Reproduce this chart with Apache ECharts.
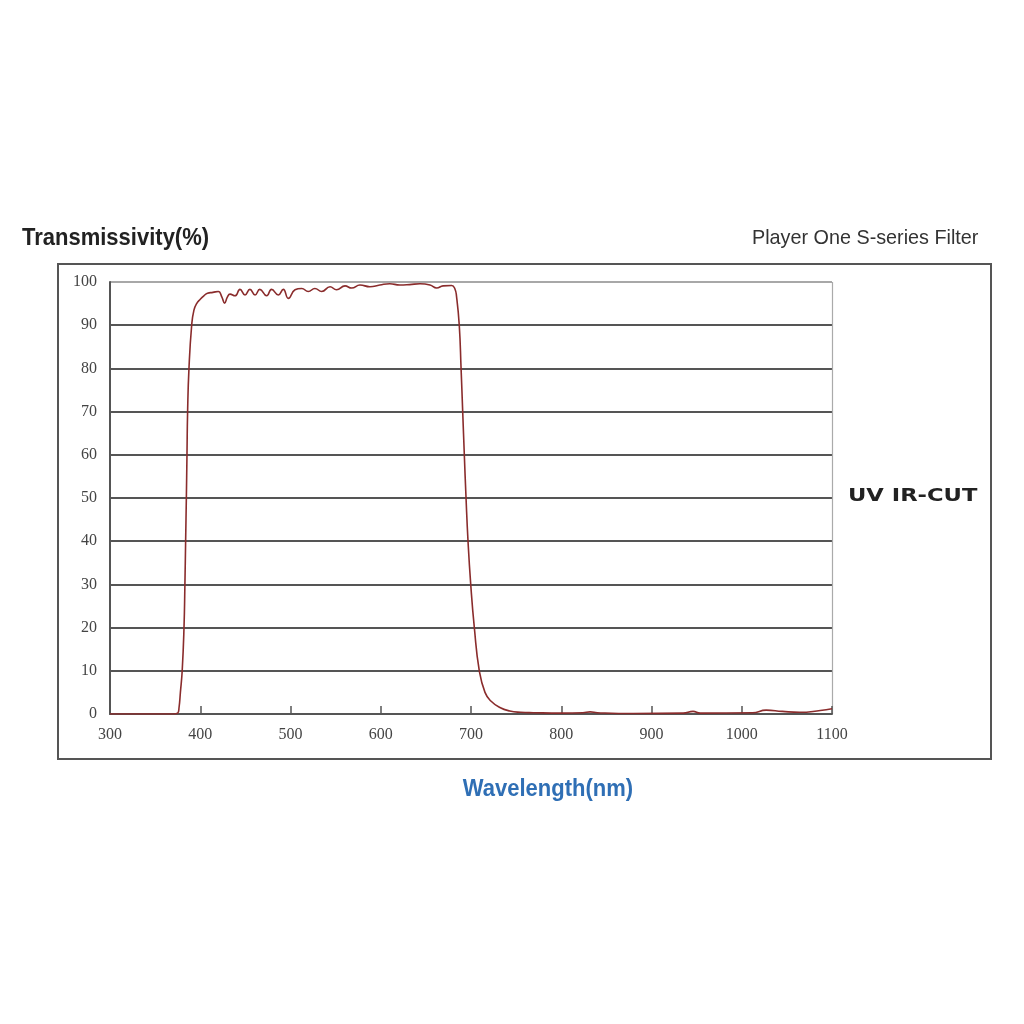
<!DOCTYPE html>
<html>
<head>
<meta charset="utf-8">
<script src="https://cdn.jsdelivr.net/npm/echarts@6/dist/echarts.min.js"></script>
<style>
html,body{margin:0;padding:0;background:#fff;}
#chart{width:1024px;height:1024px;}
</style>
</head>
<body>
<div id="chart"></div>
<script>
// Wavelength (nm) and transmissivity (%)
var wavelengths = [300, 370, 375, 376.5, 378, 380, 382, 383, 383.8, 384.6, 385.3, 386, 387.5, 390.5, 393, 396, 400, 404, 408, 414, 420, 424, 427, 430, 433, 438.5, 444, 449.6, 455, 460.7, 466, 473.6, 479, 486.5, 492, 497.6, 505, 512.4, 519.7, 527, 534.6, 543.8, 551, 560.4, 567.8, 577, 588, 599, 610, 621, 632, 643.5, 654.6, 662, 669, 678.6, 682, 684, 687, 689, 690.8, 692.6, 694.5, 696.7, 699.7, 703.7, 709.2, 715.5, 722, 732, 743, 755, 769, 800, 824, 832, 840, 880, 935, 946, 954, 1012, 1027, 1045, 1064, 1087, 1100];
var transmissivity = [0, 0, 0.2, 1.5, 5, 10, 20, 30, 40, 50, 60, 70, 80, 90, 93.5, 95, 96, 96.8, 97.4, 97.6, 97.8, 96.5, 95.1, 96.5, 97.2, 96.8, 98.3, 97.0, 98.3, 97.0, 98.3, 96.8, 98.3, 97.0, 98.3, 96.2, 98.2, 98.5, 97.8, 98.5, 97.8, 98.9, 98.2, 99.1, 98.6, 99.3, 98.9, 99.3, 99.6, 99.3, 99.4, 99.6, 99.3, 98.6, 99.1, 99.2, 98.5, 96.6, 90, 80, 70, 60, 50, 40, 30, 20, 10, 5, 3, 1.5, 0.7, 0.4, 0.3, 0.2, 0.3, 0.5, 0.3, 0.1, 0.2, 0.6, 0.2, 0.3, 0.9, 0.6, 0.4, 0.8, 1.2];
var xTicks = [300, 400, 500, 600, 700, 800, 900, 1000, 1100];
var yTicks = [0, 10, 20, 30, 40, 50, 60, 70, 80, 90, 100];

var pts = wavelengths.map(function (w, i) { return [w, transmissivity[i]]; });

var chart = echarts.init(document.getElementById('chart'), null, {renderer: 'canvas'});
var serif = '"Liberation Serif", "DejaVu Serif", serif';
var sans = '"Liberation Sans", Arial, sans-serif';

var gridColors = yTicks.map(function (v, i) { return i === yTicks.length - 1 ? '#a8a8a8' : '#555'; });
var xSplitColors = xTicks.map(function (v, i) { return i === xTicks.length - 1 ? '#aaaaaa' : 'rgba(0,0,0,0)'; });

chart.setOption({
  backgroundColor: '#ffffff',
  animation: false,
  grid: {left: 110, right: 192, top: 282, bottom: 310, containLabel: false},
  xAxis: {
    type: 'value', min: 300, max: 1100, interval: 100,
    axisLine: {show: true, onZero: false, lineStyle: {color: '#555', width: 2}},
    axisTick: {show: true, inside: true, length: 8, lineStyle: {color: '#555', width: 1.5}},
    axisLabel: {color: '#444', fontFamily: serif, fontSize: 16, margin: 13,
      formatter: function (v) { return String(v); }},
    splitLine: {show: true, lineStyle: {color: xSplitColors, width: 1.2}}
  },
  yAxis: {
    type: 'value', min: 0, max: 100, interval: 10,
    axisLine: {show: true, lineStyle: {color: '#555', width: 2}},
    axisTick: {show: false},
    axisLabel: {color: '#444', fontFamily: serif, fontSize: 16, margin: 13,
      formatter: function (v) { return String(v); }},
    splitLine: {show: true, lineStyle: {color: gridColors, width: 2}}
  },
  series: [{
    type: 'line',
    data: pts,
    showSymbol: false,
    smooth: 0.5,
    clip: true,
    lineStyle: {color: '#8a2c2c', width: 1.6}
  }],
  graphic: [
    {type: 'rect', shape: {x: 58, y: 264, width: 933, height: 495},
     style: {fill: 'none', stroke: '#555', lineWidth: 2}, z: -1},
    {type: 'text', x: 22, y: 238, scaleY: 1.12,
     style: {text: 'Transmissivity(%)', fill: '#222', font: 'bold 22px ' + sans, textVerticalAlign: 'middle', textAlign: 'left'}},
    {type: 'text', x: 752, y: 239,
     style: {text: 'Player One S-series Filter', fill: '#333', font: '19.8px ' + sans, textVerticalAlign: 'middle', textAlign: 'left'}},
    {type: 'text', x: 848, y: 497, scaleX: 1.33,
     style: {text: 'UV IR-CUT', fill: '#222', font: 'bold 17px "DejaVu Sans", sans-serif', textVerticalAlign: 'middle', textAlign: 'left'}},
    {type: 'text', x: 548, y: 789, scaleY: 1.1,
     style: {text: 'Wavelength(nm)', fill: '#2f6fb5', font: 'bold 22px ' + sans, textVerticalAlign: 'middle', textAlign: 'center'}}
  ]
});
</script>
</body>
</html>
